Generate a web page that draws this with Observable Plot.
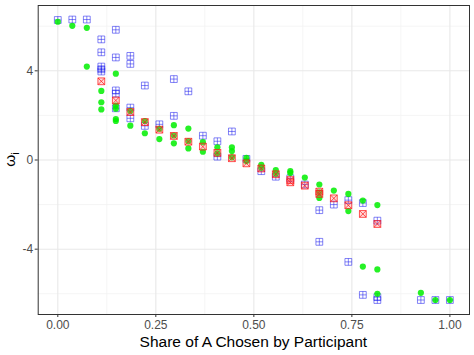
<!DOCTYPE html>
<html>
<head>
<meta charset="utf-8">
<script src="https://cdn.jsdelivr.net/npm/d3@7"></script>
<script src="https://cdn.jsdelivr.net/npm/@observablehq/plot@0.6"></script>
<style>
  html, body { margin: 0; padding: 0; background: #fff; }
  svg { display: block; font-family: "Liberation Sans", Arial, sans-serif; }
</style>
</head>
<body>
<div id="chart"></div>
<script>
// Series: blue (square plus), green (filled circle), red (square cross)
const blueShare = [0, 0.037, 0.074,
  0.111, 0.111, 0.111, 0.111, 0.111,
  0.148, 0.148, 0.148, 0.148, 0.148,
  0.185, 0.185, 0.185, 0.185,
  0.222, 0.222, 0.259, 0.296, 0.296, 0.333, 0.370, 0.407, 0.407, 0.444, 0.481,
  0.519, 0.556, 0.593, 0.630, 0.667, 0.667, 0.704, 0.741, 0.741, 0.778, 0.778,
  0.815, 0.815, 0.815, 0.926, 0.963, 1.0];
const blueOmega = [6.28, 6.3, 6.3,
  5.41, 4.83, 4.19, 4.07, 3.97,
  5.84, 4.6, 3.12, 2.98, 2.32,
  4.67, 4.31, 2.35, 1.87,
  3.34, 1.53, 1.6, 3.63, 1.98, 3.08, 1.09, 0.84, 0.15, 1.28, 0.05,
  -0.5, -0.75, -0.82, -1.1, -2.25, -3.67, -2.0, -1.8, -4.57, -1.93, -6.05,
  -2.72, -6.15, -6.28, -6.28, -6.28, -6.28];

const greenShare = [0, 0.037, 0.074, 0.074,
  0.111, 0.111, 0.111,
  0.148, 0.148, 0.148, 0.148, 0.148,
  0.185, 0.185, 0.222, 0.222, 0.259, 0.259, 0.296, 0.296, 0.296,
  0.333, 0.333, 0.333, 0.370, 0.370, 0.407, 0.407, 0.444, 0.444, 0.444,
  0.481, 0.481, 0.519, 0.519, 0.556, 0.556, 0.593, 0.593, 0.630,
  0.667, 0.667, 0.667, 0.704, 0.741, 0.741, 0.778, 0.778,
  0.815, 0.815, 0.815, 0.926, 0.963, 1.0];
const greenOmega = [6.2, 6.02, 5.93, 4.19,
  3.1, 2.59, 2.27,
  3.87, 2.44, 2.3, 1.84, 1.75,
  2.2, 1.54, 1.75, 1.2, 1.4, 0.94, 1.56, 1.1, 0.75,
  1.41, 0.85, 0.52, 0.8, 0.37, 0.57, 0.3, 0.57, 0.4, 0.12,
  0.1, -0.05, -0.22, -0.35, -0.45, -0.62, -0.5, -0.58, -0.79,
  -1.1, -1.45, -1.7, -1.37, -1.52, -2.29, -1.82, -4.78,
  -2.02, -4.91, -6.0, -5.96, -6.28, -6.28];

const redShare = [0.111, 0.148, 0.185, 0.222, 0.259, 0.296, 0.333, 0.370, 0.407,
  0.444, 0.481, 0.519, 0.556, 0.593, 0.593, 0.630, 0.667, 0.667, 0.704, 0.741, 0.778, 0.815];
const redOmega = [3.53, 2.67, 2.15, 1.7, 1.36, 1.08, 0.82, 0.6, 0.32,
  0.08, -0.15, -0.38, -0.64, -0.9, -1.0, -1.15, -1.42, -1.52, -1.72, -2.03, -2.42, -2.87];

const xTicks = [0, 0.25, 0.5, 0.75, 1];
const xMinor = [0.125, 0.375, 0.625, 0.875];
const yTicks = [-4, 0, 4];
const yMinor = [-6, -2, 2, 6];
const xTitle = "Share of A Chosen by Participant";

const blue = blueShare.map((s, i) => ({share: s, omega: blueOmega[i]}));
const green = greenShare.map((s, i) => ({share: s, omega: greenOmega[i]}));
const red = redShare.map((s, i) => ({share: s, omega: redOmega[i]}));

const squarePlus = {
  draw(ctx, size) {
    const s = Math.sqrt(size / Math.PI);
    ctx.moveTo(-s, -s); ctx.lineTo(s, -s); ctx.lineTo(s, s); ctx.lineTo(-s, s); ctx.closePath();
    ctx.moveTo(-s, 0); ctx.lineTo(s, 0);
    ctx.moveTo(0, -s); ctx.lineTo(0, s);
  }
};
const squareCross = {
  draw(ctx, size) {
    const s = Math.sqrt(size / Math.PI);
    ctx.moveTo(-s, -s); ctx.lineTo(s, -s); ctx.lineTo(s, s); ctx.lineTo(-s, s); ctx.closePath();
    ctx.moveTo(-s, -s); ctx.lineTo(s, s);
    ctx.moveTo(s, -s); ctx.lineTo(-s, s);
  }
};

const W = 474, H = 355;
const mL = 37.7, mR = 5, mT = 5, mB = 41;

const chart = Plot.plot({
  width: W, height: H,
  marginLeft: mL, marginRight: mR, marginTop: mT, marginBottom: mB,
  style: {fontFamily: '"Liberation Sans", Arial, sans-serif', background: "#fff"},
  x: {domain: [-0.05, 1.05], label: null},
  y: {domain: [-6.93, 6.93], label: null},
  marks: [
    Plot.gridX(xMinor, {stroke: "#f2f2f2", strokeOpacity: 1, strokeWidth: 0.8}),
    Plot.gridY(yMinor, {stroke: "#f2f2f2", strokeOpacity: 1, strokeWidth: 0.8}),
    Plot.gridX(xTicks, {stroke: "#e8e8e8", strokeOpacity: 1, strokeWidth: 1.1}),
    Plot.gridY(yTicks, {stroke: "#e8e8e8", strokeOpacity: 1, strokeWidth: 1.1}),
    Plot.dot(blue, {x: "share", y: "omega", symbol: squarePlus, r: 3.4, stroke: "#2222ee", strokeOpacity: 0.55, strokeWidth: 1, fill: "none"}),
    Plot.dot(green, {x: "share", y: "omega", symbol: "circle", r: 3.1, fill: "#00ee00", fillOpacity: 0.85, stroke: "none"}),
    Plot.dot(red, {x: "share", y: "omega", symbol: squareCross, r: 3.4, stroke: "#ff1111", strokeOpacity: 0.7, strokeWidth: 1, fill: "#ff6666", fillOpacity: 0.25}),
    Plot.frame({stroke: "#333333", strokeWidth: 1}),
    Plot.axisX(xTicks, {tickSize: 3, tickPadding: 3, fontSize: 12, stroke: "#333333", fill: "#4d4d4d", label: null, tickFormat: d => d.toFixed(2)}),
    Plot.axisY(yTicks, {tickSize: 3, tickPadding: 2, fontSize: 12, stroke: "#333333", fill: "#4d4d4d", label: null, tickFormat: d => String(d)})
  ]
});

document.getElementById("chart").appendChild(chart);

const svg = d3.select(chart);
svg.append("text")
  .attr("x", (mL + (W - mR)) / 2)
  .attr("y", 346.5)
  .attr("text-anchor", "middle")
  .attr("font-size", 15.5)
  .attr("fill", "#000")
  .text(xTitle);

const yl = svg.append("text")
  .attr("transform", `translate(15, ${(mT + (H - mB)) / 2}) rotate(-90)`)
  .attr("text-anchor", "middle")
  .attr("font-size", 15.5)
  .attr("fill", "#000");
yl.append("tspan").text("ω");
yl.append("tspan").attr("font-size", 11).attr("dy", 4).text("i");
</script>
</body>
</html>
